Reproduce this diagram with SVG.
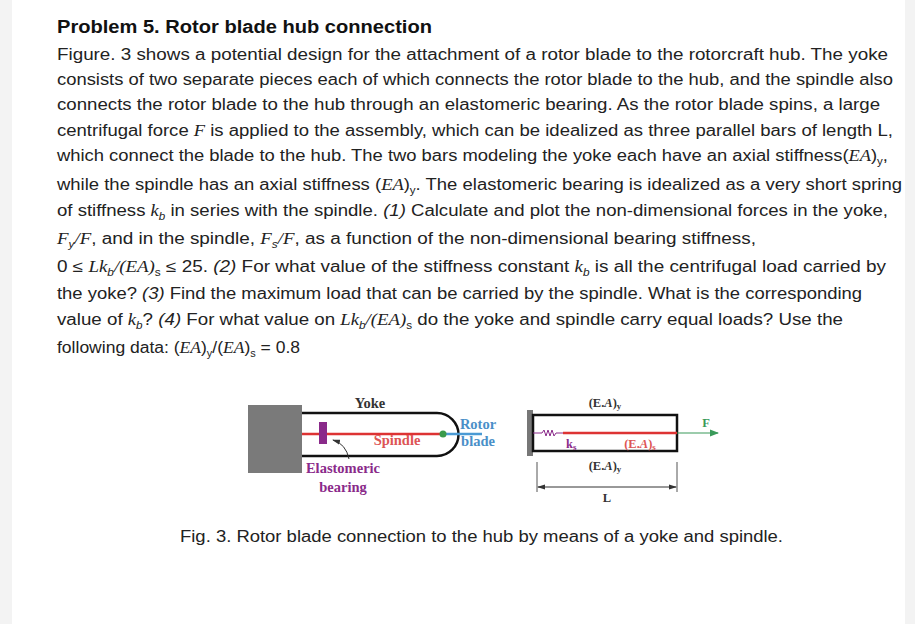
<svg xmlns="http://www.w3.org/2000/svg" width="915" height="624" viewBox="0 0 915 624">
<defs>
<style>
.t{font-family:"Liberation Sans",Arial,sans-serif;font-size:16px;fill:#222}
.f{font-family:"Liberation Serif","Times New Roman",serif;font-weight:bold;font-size:14.5px}
.m{font-size:12.5px}
</style>
<marker id="ga" markerWidth="8" markerHeight="8" refX="7" refY="4" orient="auto"><path d="M0,1 L8,4 L0,7z" fill="#3a9a5a"/></marker>
<marker id="ka" markerWidth="8" markerHeight="8" refX="7" refY="4" orient="auto-start-reverse"><path d="M0,1.5 L8,4 L0,6.5z" fill="#333"/></marker>
</defs>
<rect width="915" height="624" fill="#fff"/>
<rect x="0" y="0" width="12" height="624" fill="#f3f3f3"/>
<rect x="905" y="0" width="10" height="624" fill="#f3f3f3"/>
<text x="57" y="33" style="font-family:'Liberation Sans',Arial,sans-serif;font-weight:bold;font-size:18px;fill:#111" textLength="375" lengthAdjust="spacingAndGlyphs">Problem 5. Rotor blade hub connection</text>
<g class="t">
<text x="57" y="60" textLength="831" lengthAdjust="spacingAndGlyphs">Figure. 3 shows a potential design for the attachment of a rotor blade to the rotorcraft hub. The yoke</text>
<text x="57" y="85" textLength="836" lengthAdjust="spacingAndGlyphs">consists of two separate pieces each of which connects the rotor blade to the hub, and the spindle also</text>
<text x="57" y="110" textLength="823" lengthAdjust="spacingAndGlyphs">connects the rotor blade to the hub through an elastomeric bearing. As the rotor blade spins, a large</text>
<text x="57" y="136" textLength="836" lengthAdjust="spacingAndGlyphs">centrifugal force <tspan font-style="italic" font-family="Liberation Serif">F</tspan> is applied to the assembly, which can be idealized as three parallel bars of length L,</text>
<text x="57" y="161" textLength="831" lengthAdjust="spacingAndGlyphs">which connect the blade to the hub. The two bars modeling the yoke each have an axial stiffness(<tspan font-style="italic" font-family="Liberation Serif">EA</tspan>)<tspan font-size="10" dy="4">y</tspan><tspan dy="-4">,</tspan></text>
<text x="57" y="190" textLength="845" lengthAdjust="spacingAndGlyphs">while the spindle has an axial stiffness (<tspan font-style="italic" font-family="Liberation Serif">EA</tspan>)<tspan font-size="10" dy="4">y</tspan><tspan dy="-4">. The elastomeric bearing is idealized as a very short spring</tspan></text>
<text x="57" y="216" textLength="831" lengthAdjust="spacingAndGlyphs">of stiffness <tspan font-style="italic" font-family="Liberation Serif">k</tspan><tspan font-size="10" dy="4" font-style="italic">b</tspan><tspan dy="-4"> in series with the spindle. </tspan><tspan font-style="italic">(1)</tspan> Calculate and plot the non-dimensional forces in the yoke,</text>
<text x="57" y="244" textLength="699" lengthAdjust="spacingAndGlyphs"><tspan font-style="italic" font-family="Liberation Serif">F</tspan><tspan font-size="10" dy="4" font-style="italic">y</tspan><tspan dy="-4" font-style="italic" font-family="Liberation Serif">/F</tspan>, and in the spindle, <tspan font-style="italic" font-family="Liberation Serif">F</tspan><tspan font-size="10" dy="4" font-style="italic">s</tspan><tspan dy="-4" font-style="italic" font-family="Liberation Serif">/F</tspan>, as a function of the non-dimensional bearing stiffness,</text>
<text x="57" y="272" textLength="829" lengthAdjust="spacingAndGlyphs">0 ≤ <tspan font-style="italic" font-family="Liberation Serif">Lk</tspan><tspan font-size="10" dy="4" font-style="italic">b</tspan><tspan dy="-4" font-style="italic" font-family="Liberation Serif">/(EA)</tspan><tspan font-size="10" dy="4">s</tspan><tspan dy="-4"> ≤ 25. </tspan><tspan font-style="italic">(2)</tspan> For what value of the stiffness constant <tspan font-style="italic" font-family="Liberation Serif">k</tspan><tspan font-size="10" dy="4" font-style="italic">b</tspan><tspan dy="-4"> is all the centrifugal load carried by</tspan></text>
<text x="57" y="299" textLength="805" lengthAdjust="spacingAndGlyphs">the yoke? <tspan font-style="italic">(3)</tspan> Find the maximum load that can be carried by the spindle. What is the corresponding</text>
<text x="57" y="325" textLength="786" lengthAdjust="spacingAndGlyphs">value of <tspan font-style="italic" font-family="Liberation Serif">k</tspan><tspan font-size="10" dy="4" font-style="italic">b</tspan><tspan dy="-4">? </tspan><tspan font-style="italic">(4)</tspan> For what value on <tspan font-style="italic" font-family="Liberation Serif">Lk</tspan><tspan font-size="10" dy="4" font-style="italic">b</tspan><tspan dy="-4" font-style="italic" font-family="Liberation Serif">/(EA)</tspan><tspan font-size="10" dy="4">s</tspan><tspan dy="-4"> do the yoke and spindle carry equal loads? Use the</tspan></text>
<text x="57" y="353" textLength="243" lengthAdjust="spacingAndGlyphs">following data: (<tspan font-style="italic" font-family="Liberation Serif">EA</tspan>)<tspan font-size="10" dy="4">y</tspan><tspan dy="-4">/(</tspan><tspan font-style="italic" font-family="Liberation Serif">EA</tspan>)<tspan font-size="10" dy="4">s</tspan><tspan dy="-4"> = 0.8</tspan></text>
<text x="180" y="542" textLength="603" lengthAdjust="spacingAndGlyphs">Fig. 3. Rotor blade connection to the hub by means of a yoke and spindle.</text>
</g>
<g id="hub">
<rect x="248" y="405" width="54" height="68" fill="#7a7a7a"/>
</g>
<g id="yoke">
<path d="M302,413 H437 A21.5,21.5 0 0 1 437,456 H302" fill="none" stroke="#111" stroke-width="2.5"/>
<text class="f" x="370" y="408" text-anchor="middle" fill="#333">Yoke</text>
</g>
<g id="spindle">
<line x1="302" y1="434" x2="443" y2="434" stroke="#d33" stroke-width="2.5"/>
<text class="f" x="397" y="445" text-anchor="middle" fill="#d55">Spindle</text>
</g>
<g id="blade">
<line x1="443" y1="434" x2="482" y2="434" stroke="#4a9ad4" stroke-width="2.5"/>
<circle cx="443" cy="434" r="3.5" fill="#3a9a4a"/>
<text class="f" x="478" y="429" text-anchor="middle" fill="#4a8fc8">Rotor</text>
<text class="f" x="478" y="446" text-anchor="middle" fill="#4a8fc8">blade</text>
</g>
<g id="bearing">
<rect x="319" y="422" width="8" height="22" fill="#8a2a8a"/>
<text class="f" x="343" y="473" text-anchor="middle" fill="#8a2a8a">Elastomeric</text>
<text class="f" x="343" y="492" text-anchor="middle" fill="#8a2a8a">bearing</text>
</g>
<g id="model">
<rect x="527" y="410" width="6" height="46" fill="#777"/>
<rect x="533" y="415" width="144" height="36" fill="none" stroke="#111" stroke-width="2.5"/>
<line x1="563" y1="433" x2="677" y2="433" stroke="#d33" stroke-width="2.5"/>
<path d="M533,433 H542 l2,-3 l2,6 l2,-6 l2,6 l2,-6 l2,6 l2,-3 H563" fill="none" stroke="#8a2a8a" stroke-width="1"/>
<text class="f m" x="566" y="448" fill="#8a2a8a">k<tspan font-size="9" dy="2">s</tspan></text>
<text class="f m" x="640" y="448" text-anchor="middle" fill="#d55">(E.<tspan font-style="italic">A</tspan>)<tspan font-size="9" dy="2">s</tspan></text>
<text class="f m" x="605" y="407" text-anchor="middle" fill="#333">(E.<tspan font-style="italic">A</tspan>)<tspan font-size="9" dy="2">y</tspan></text>
<text class="f m" x="605" y="470" text-anchor="middle" fill="#333">(E.<tspan font-style="italic">A</tspan>)<tspan font-size="9" dy="2">y</tspan></text>
<text class="f m" x="706" y="427" text-anchor="middle" fill="#3a9a5a">F</text>
<line x1="537" y1="462" x2="537" y2="492" stroke="#555"/>
<line x1="677" y1="462" x2="677" y2="492" stroke="#555"/>
<text class="f m" x="607" y="502" text-anchor="middle" fill="#333">L</text>
</g>
<g id="connectors">
<path d="M349,459 Q346,444 333,440" fill="none" stroke="#333" stroke-width="1" marker-end="url(#ka)"/>
<line x1="677" y1="433" x2="718" y2="433" stroke="#3a9a5a" stroke-width="1.2" marker-end="url(#ga)"/>
<line x1="538" y1="487" x2="676" y2="487" stroke="#333" stroke-width="1" marker-start="url(#ka)" marker-end="url(#ka)"/>
</g>
</svg>
